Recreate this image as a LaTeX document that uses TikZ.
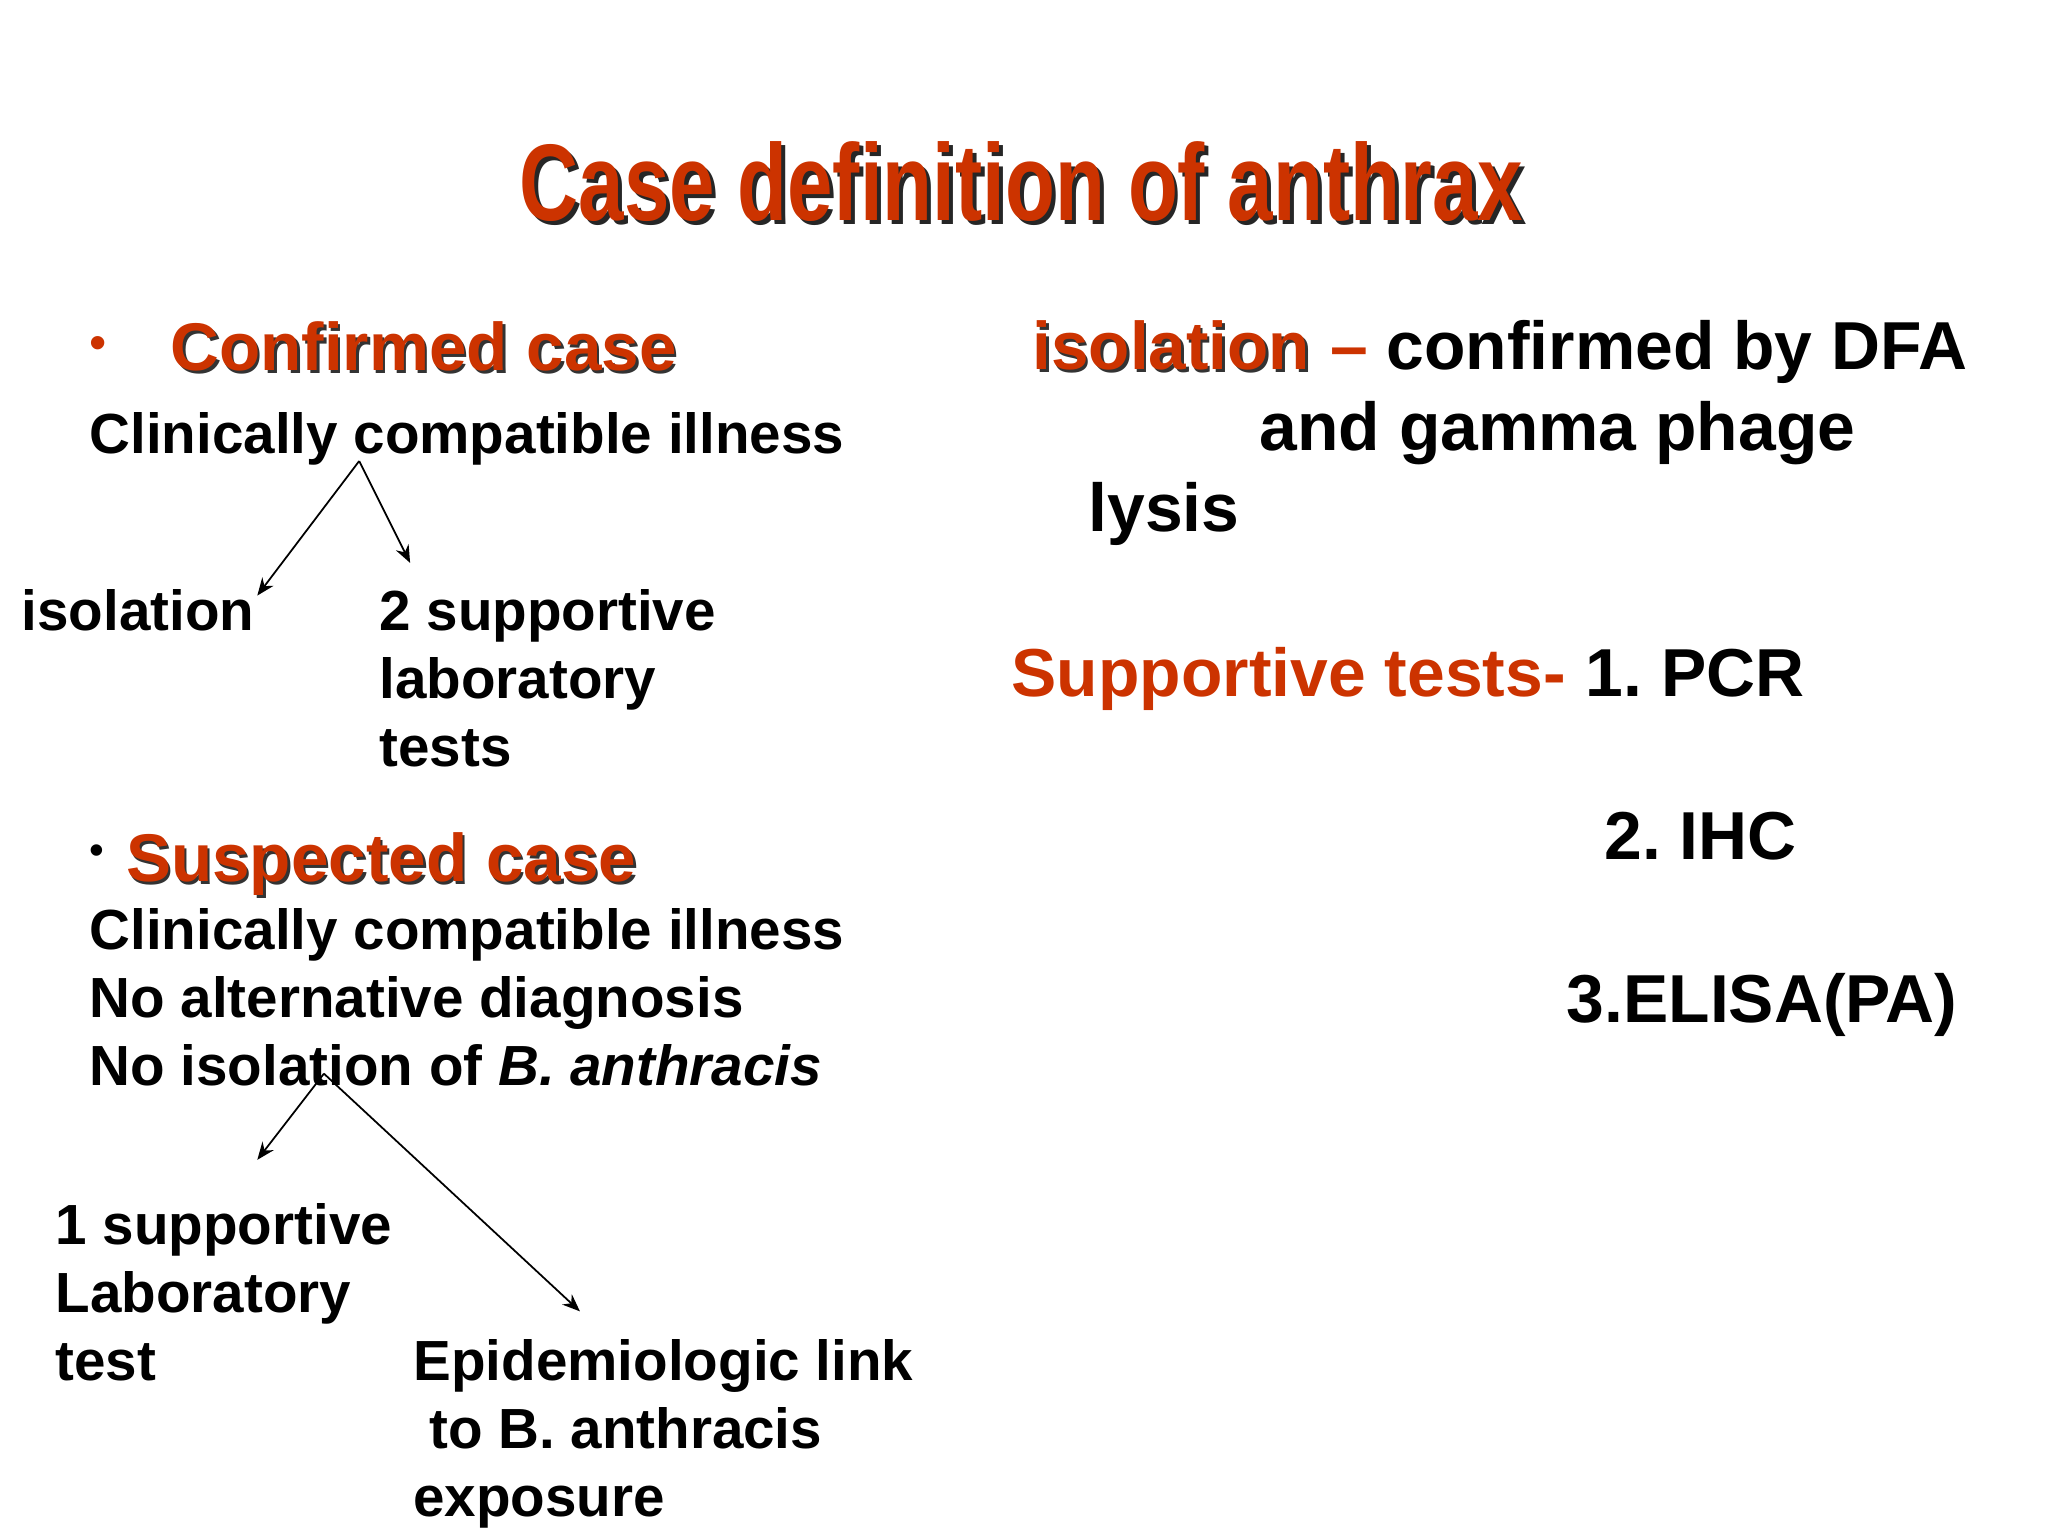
\documentclass[tikz,border=0pt]{standalone}
\usepackage{fontspec}
\setmainfont{Liberation Sans}
\usetikzlibrary{arrows.meta}
\definecolor{slidered}{RGB}{204,51,0}
\frenchspacing
\tikzset{
  txt/.style={anchor=base west, inner sep=0pt, font=\bfseries\fontsize{16.1}{19}\selectfont},
  big/.style={anchor=base west, inner sep=0pt, font=\bfseries\fontsize{19.3}{23}\selectfont},
  red/.style={big, text=slidered},
  head/.style={anchor=base west, inner sep=0pt, font=\bfseries\fontsize{19.2}{23}\selectfont},
  link/.style={-{Stealth[length=5pt,width=4pt]}, line width=0.5pt}
}
\newcommand{\shadowed}[4]{% name, x, y, text
  \node[head, text=black!80] at (#2+2,#3+2) {#4};
  \node[head, text=slidered] (#1) at (#2,#3) {#4};}
\begin{document}
\begin{tikzpicture}[x=0.013061cm, y=-0.013061cm]
\useasboundingbox (0,0) rectangle (1568,1176);
\fill[white] (0,0) rectangle (1568,1176);

% title
\node[anchor=base, inner sep=0pt, text=black!85, xscale=0.75,
  font=\bfseries\fontsize{31}{34}\selectfont] at (785,172) {Case definition of anthrax};
\node[anchor=base, inner sep=0pt, text=slidered, xscale=0.75,
  font=\bfseries\fontsize{31}{34}\selectfont] (title) at (782,169) {Case definition of anthrax};

% confirmed case
\node[anchor=base west, inner sep=0pt, text=slidered, font=\fontsize{14}{17}\selectfont] (bul1) at (68,275) {•};
\shadowed{conf}{130}{284}{Confirmed case}
\node[txt] (clin1) at (68,347) {Clinically compatible illness};
\node[txt] (iso) at (16,483) {isolation};
\node[txt] (sup1) at (290,483) {2 supportive};
\node[txt] (sup2) at (290,535) {laboratory};
\node[txt] (sup3) at (290,587) {tests};
\coordinate (c1) at (275,353);
\coordinate (c1a) at (197,456);
\coordinate (c1b) at (314,431);
\draw[link] (c1) -- (c1a);
\draw[link] (c1) -- (c1b);

% suspected case
\node[anchor=base west, inner sep=0pt, font=\fontsize{12}{14}\selectfont] (bul2) at (68,662) {•};
\shadowed{susp}{96}{675}{Suspected case}
\node[txt] (clin2) at (68,727) {Clinically compatible illness};
\node[txt] (noalt) at (68,779) {No alternative diagnosis};
\node[txt] (noiso) at (68,831) {No isolation of \textit{B. anthracis}};
\node[txt] (one1) at (42,953) {1 supportive};
\node[txt] (one2) at (42,1005) {Laboratory};
\node[txt] (one3) at (42,1057) {test};
\node[txt] (epi1) at (316,1057) {Epidemiologic link};
\node[txt] (epi2) at (316,1109) {\ to B. anthracis};
\node[txt] (epi3) at (316,1161) {exposure};
\coordinate (c2) at (248,822);
\coordinate (c2a) at (197,888);
\coordinate (c2b) at (444,1004);
\draw[link] (c2) -- (c2a);
\draw[link] (c2) -- (c2b);

% right column
\node[head, text=black!80] at (792,285) {isolation};
\node[head, text=slidered] (isoR) at (790,283) {isolation};
\node[big] (dfa) at (isoR.base east) {\textcolor{slidered}{\ –} confirmed by DFA};
\node[big] (gamma) at (964,345) {and gamma phage};
\node[big] (lysis) at (833,407) {lysis};
\node[red] (supt) at (774,533) {Supportive tests-};
\node[big] (pcr) at (supt.base east) {\ 1. PCR};
\node[big] (ihc) at (1228,658) {2. IHC};
\node[big] (elisa) at (1199,783) {3.ELISA(PA)};
\end{tikzpicture}
\end{document}
